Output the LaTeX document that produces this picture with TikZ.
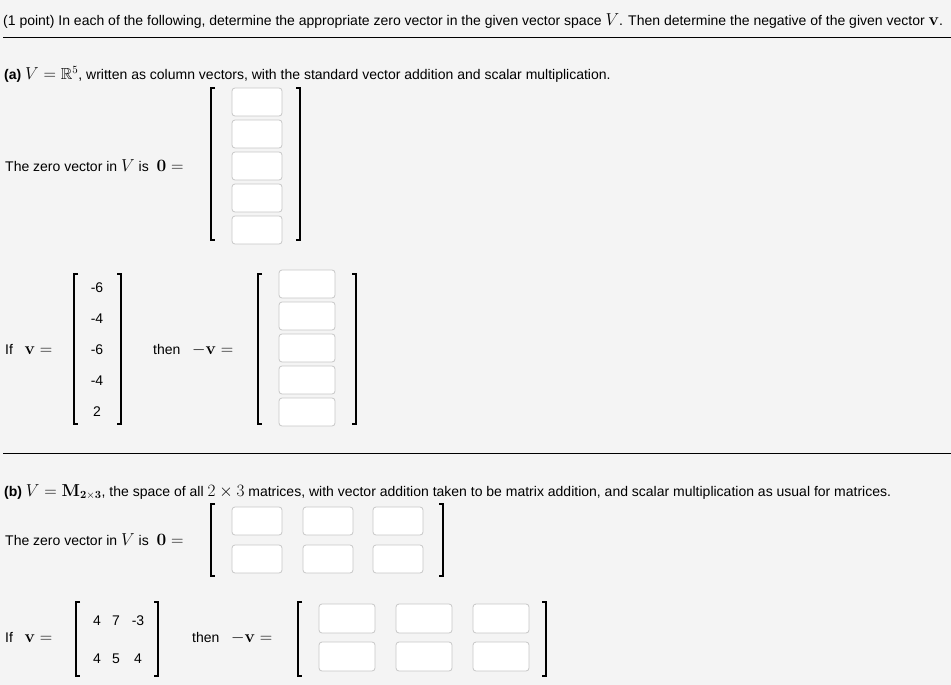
\documentclass[tikz,border=0pt]{standalone}
\usepackage[no-math]{fontspec}
\usepackage{amssymb}
\setmainfont{Liberation Sans}
\newcommand{\mth}[1]{{\fontsize{16}{18}\selectfont$#1$}}
\begin{document}
\begin{tikzpicture}[x=1pt,y=-1pt,
  txt/.style={anchor=base west,inner sep=0pt,font=\fontsize{14}{16}\selectfont},
  num/.style={anchor=base,inner sep=0pt,font=\fontsize{14}{16}\selectfont},
  ans/.style={draw=black!22,fill=white,rounded corners=3pt,line width=0.8pt},
  brk/.style={line width=1.6pt,black}]
\useasboundingbox[fill={rgb,255:red,244;green,244;blue,244}] (0,0) rectangle (951,685);
% header
\node[txt] (hdr) at (3,26) {(1 point) In each of the following, determine the appropriate zero vector in the given vector space \mth{V}. Then determine the negative of the given vector \mth{\mathbf{v}}.};
\coordinate (l1a) at (3,37); \coordinate (l1b) at (951,37);
\draw[line width=0.8pt] (l1a) -- (l1b);
% part a
\node[txt] (pa) at (4,80) {\textbf{(a)} \mth{V=\mathbb{R}^5}, written as column vectors, with the standard vector addition and scalar multiplication.};
\node[txt] (za) at (5,171) {The zero vector in \mth{V} is\ \ \mth{\mathbf{0}=}};
\foreach \i/\y in {1/88,2/120,3/152,4/184,5/216}{
  \draw[ans] (232,\y) rectangle (282,\y+28);
}
\draw[brk] (215,88) -- (211,88) -- (211,240) -- (215,240);
\draw[brk] (296,88) -- (300,88) -- (300,240) -- (296,240);
% v
\node[txt] (ifa) at (5,354) {If\ \ \ \mth{\mathbf{v}=}};
\foreach \i/\y/\v in {1/292/-6,2/323/-4,3/354/-6,4/385/-4,5/416/2}{
  \node[num] (va\i) at (97,\y) {\v};
}
\draw[brk] (78,274) -- (74,274) -- (74,424) -- (78,424);
\draw[brk] (117,274) -- (121,274) -- (121,424) -- (117,424);
\node[txt] (tha) at (153,354) {then\ \ \ \mth{-\mathbf{v}=}};
\foreach \i/\y in {1/270,2/302,3/334,4/366,5/398}{
  \draw[ans] (279,\y) rectangle (335,\y+28);
}
\draw[brk] (262,274) -- (258,274) -- (258,424) -- (262,424);
\draw[brk] (352,274) -- (356,274) -- (356,424) -- (352,424);
\coordinate (l2a) at (3,453); \coordinate (l2b) at (951,453);
\draw[line width=0.8pt] (l2a) -- (l2b);
% part b
\node[txt] (pb) at (4,496) {\textbf{(b)} \mth{V=\mathbf{M}_{\mathbf{2\times 3}}}, the space of all \mth{2\times 3} matrices, with vector addition taken to be matrix addition, and scalar multiplication as usual for matrices.};
\node[txt] (zb) at (5,545) {The zero vector in \mth{V} is\ \ \mth{\mathbf{0}=}};
\foreach \x in {232,303,373}{
  \draw[ans] (\x,507) rectangle (\x+50,535);
  \draw[ans] (\x,545) rectangle (\x+50,573);
}
\draw[brk] (215,504) -- (211,504) -- (211,576) -- (215,576);
\draw[brk] (439,504) -- (443,504) -- (443,576) -- (439,576);
\node[txt] (ifb) at (5,642) {If\ \ \ \mth{\mathbf{v}=}};
\foreach \x/\a/\b [count=\k] in {97/4/4,116/7/5,138/-3/4}{
  \node[num] (vb1\k) at (\x,625) {\a};
  \node[num] (vb2\k) at (\x,663) {\b};
}
\draw[brk] (80,602) -- (76,602) -- (76,676) -- (80,676);
\draw[brk] (154,602) -- (158,602) -- (158,676) -- (154,676);
\node[txt] (thb) at (192,642) {then\ \ \ \mth{-\mathbf{v}=}};
\foreach \x in {319,396,473}{
  \draw[ans] (\x,604) rectangle (\x+56,633);
  \draw[ans] (\x,642) rectangle (\x+56,671);
}
\draw[brk] (302,602) -- (298,602) -- (298,676) -- (302,676);
\draw[brk] (542,602) -- (546,602) -- (546,676) -- (542,676);
\end{tikzpicture}
\end{document}
